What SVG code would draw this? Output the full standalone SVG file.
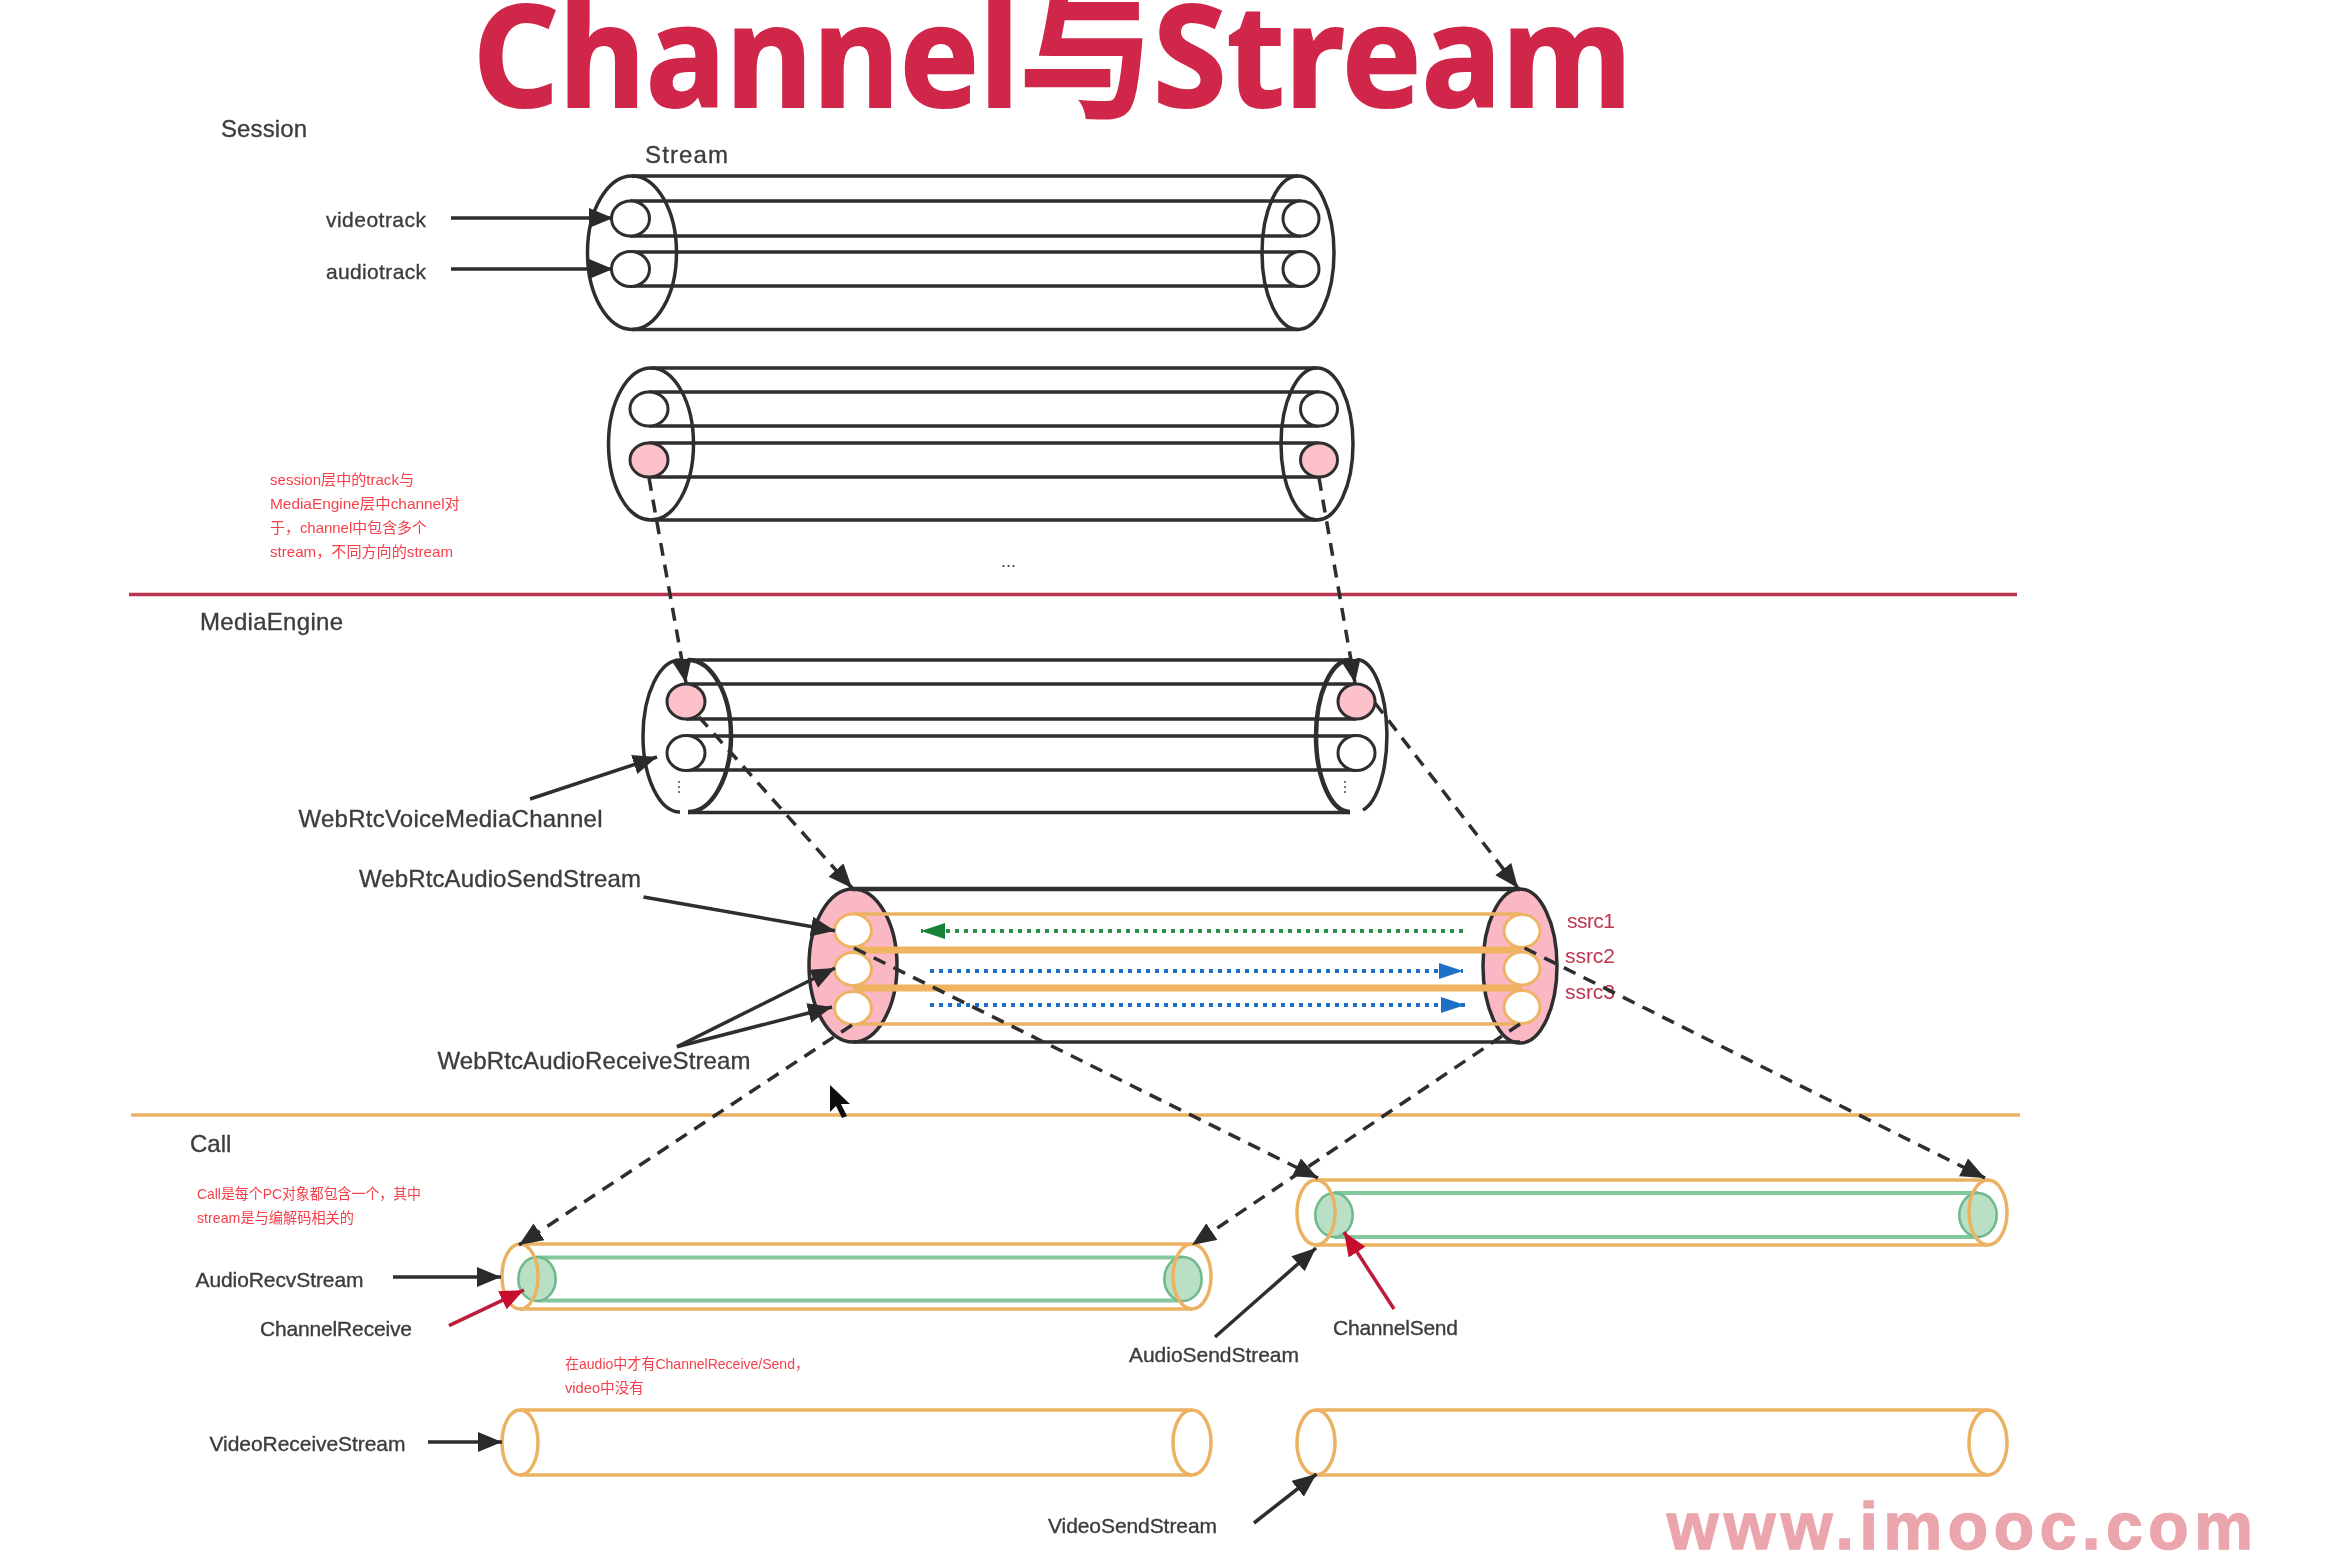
<svg xmlns="http://www.w3.org/2000/svg" width="2329" height="1563" viewBox="0 0 2329 1563">
<style>
text{font-family:"Liberation Sans","Noto Sans CJK SC",sans-serif;fill:#3c3c3c}
.t{font-family:"Noto Sans","Noto Sans CJK SC",sans-serif;font-weight:700;fill:#d0284a;stroke:#d0284a;stroke-width:2px}
.w{font-weight:700;fill:#eba5ac;stroke:#eba5ac;stroke-width:1.500px}
.l24{font-size:24px;stroke:#3c3c3c;stroke-width:.35px}.l21{font-size:21px;stroke:#3c3c3c;stroke-width:.35px}
.n{font-size:15px;fill:#f5414b}
.s{font-size:21px;fill:#bf3450}
.k{fill:none;stroke:#2e2e2e;stroke-width:3.500}
.kt{fill:none;stroke:#2e2e2e;stroke-width:4.500}
.kw{fill:#fff;stroke:#2e2e2e;stroke-width:3}
.kp{fill:#fdc1cb;stroke:#2e2e2e;stroke-width:3}
.o{fill:none;stroke:#ecb264;stroke-width:3.500}
.ot{fill:none;stroke:#f0b35e;stroke-width:7}
.ow{fill:#fff;stroke:#eeb365;stroke-width:3}
.op{fill:#fab8c4;stroke:#2e2e2e;stroke-width:3.500}
.g{fill:none;stroke:#83c79c;stroke-width:4}
.ge{fill:#b9e0c4;stroke:#6fb88b;stroke-width:2.500}
.a{fill:none;stroke:#2e2e2e;stroke-width:3.500;marker-end:url(#ah)}
.r{fill:none;stroke:#bd1f38;stroke-width:3.500;marker-end:url(#ahr)}
.d{fill:none;stroke:#2e2e2e;stroke-width:3.500;stroke-dasharray:13 9;marker-end:url(#ah)}
.dg{fill:none;stroke:#2a8f4b;stroke-width:4;stroke-dasharray:4 5;marker-end:url(#ahg)}
.db{fill:none;stroke:#1f70c4;stroke-width:4;stroke-dasharray:4 5;marker-end:url(#ahb)}
</style>
<defs>
<filter id="soft" x="0" y="0" width="100%" height="100%"><feGaussianBlur stdDeviation="0.5"/></filter>
<marker id="ah" markerUnits="userSpaceOnUse" markerWidth="26" markerHeight="22" refX="24" refY="10" orient="auto"><path d="M0 0L24 10L0 20z" fill="#2b2b2b"/></marker>
<marker id="ahr" markerUnits="userSpaceOnUse" markerWidth="26" markerHeight="22" refX="24" refY="10" orient="auto"><path d="M0 0L24 10L0 20z" fill="#c70f2e"/></marker>
<marker id="ahg" markerUnits="userSpaceOnUse" markerWidth="26" markerHeight="18" refX="24" refY="8" orient="auto"><path d="M0 0L24 8L0 16z" fill="#128239"/></marker>
<marker id="ahb" markerUnits="userSpaceOnUse" markerWidth="26" markerHeight="18" refX="24" refY="8" orient="auto"><path d="M0 0L24 8L0 16z" fill="#1a70c8"/></marker>
</defs>
<rect width="2329" height="1563" fill="#fff"/>
<g filter="url(#soft)">
<g id="title"><text class="t" x="473" y="107" font-size="142" textLength="1159" lengthAdjust="spacingAndGlyphs">Channel与Stream</text></g>
<g id="watermark"><text class="w" x="1667" y="1549" font-size="66" textLength="586">www.imooc.com</text></g>
<g id="separators">
<line x1="129" y1="594.500" x2="2017" y2="594.500" stroke="#b8344e" stroke-width="3.500"/>
<line x1="131" y1="1115" x2="2020" y2="1115" stroke="#ecb264" stroke-width="3.500"/>
</g>
<g id="layer-labels">
<text class="l24" x="221" y="137" textLength="86">Session</text>
<text class="l24" x="645" y="163" textLength="83">Stream</text>
<text class="l24" x="200" y="630" textLength="143">MediaEngine</text>
<text class="l24" x="190" y="1152">Call</text>
</g>
<g id="stream-a">
<path class="k" d="M632 176H1298M632 329.500H1298M630 201H1301M630 236H1301M630 252H1301M630 286H1301"/>
<ellipse class="k" cx="632" cy="252.700" rx="44.500" ry="76.700"/>
<ellipse class="k" cx="1298" cy="252.700" rx="36" ry="76.700"/>
<ellipse class="kw" cx="630.500" cy="218.500" rx="19" ry="17.500"/>
<ellipse class="kw" cx="630.500" cy="269" rx="19" ry="17.500"/>
<ellipse class="kw" cx="1301" cy="218.500" rx="18" ry="17.500"/>
<ellipse class="kw" cx="1301" cy="269" rx="18" ry="17.500"/>
</g>
<g id="stream-b">
<path class="k" d="M651 368H1317M651 520H1317M649 392H1319M649 426H1319M649 443H1319M649 477H1319"/>
<ellipse class="k" cx="651" cy="444" rx="42.500" ry="76"/>
<ellipse class="k" cx="1317" cy="444" rx="36" ry="76"/>
<ellipse class="kw" cx="649" cy="409" rx="19" ry="17"/>
<ellipse class="kp" cx="649" cy="460" rx="19" ry="17"/>
<ellipse class="kw" cx="1319" cy="409" rx="18.500" ry="17"/>
<ellipse class="kp" cx="1319" cy="460" rx="18.500" ry="17"/>
<text x="1001" y="567" font-size="18" fill="#555">...</text>
</g>
<g id="voice-channel">
<path class="k" d="M688 660H1350M688 812.500H1350M686 684H1356M686 719H1356M686 736H1356M686 770H1356"/>
<path class="k" d="M680 660A37 76 0 0 0 680 812"/>
<path class="kt" d="M688 660A43 76 0 0 1 688 812"/>
<path class="kt" d="M1350 660A34 76 0 0 0 1350 812"/>
<path class="k" d="M1360 660A30 76 0 0 1 1363 810"/>
<ellipse class="kp" cx="686" cy="701.500" rx="19" ry="17.500"/>
<ellipse class="kw" cx="686" cy="753" rx="19" ry="17.500"/>
<ellipse class="kp" cx="1356.500" cy="701.500" rx="18.500" ry="17.500"/>
<ellipse class="kw" cx="1356.500" cy="753" rx="18.500" ry="17.500"/>
<path d="M679 781V794M1345 781V794" fill="none" stroke="#777" stroke-width="2" stroke-dasharray="2 3"/>
<text class="l24" x="298.500" y="827" textLength="304">WebRtcVoiceMediaChannel</text>
</g>
<g id="audio-streams">
<ellipse class="op" cx="853" cy="965.500" rx="44" ry="76.500"/>
<ellipse class="op" cx="1520" cy="966" rx="37" ry="77"/>
<path class="kt" d="M852 889H1520"/>
<path class="k" d="M853 1042H1520"/>
<path class="o" d="M853 914H1522M853 1024H1522"/>
<path class="ot" d="M853 950H1522M853 988H1522"/>
<ellipse class="ow" cx="853" cy="930.500" rx="18.500" ry="16.500"/>
<ellipse class="ow" cx="853" cy="969" rx="18.500" ry="16.500"/>
<ellipse class="ow" cx="853" cy="1008" rx="18.500" ry="16.500"/>
<ellipse class="ow" cx="1522" cy="931" rx="18" ry="16.500"/>
<ellipse class="ow" cx="1522" cy="968.500" rx="18" ry="16.500"/>
<ellipse class="ow" cx="1522" cy="1007" rx="18" ry="16.500"/>
<text class="l24" x="359" y="887" textLength="282">WebRtcAudioSendStream</text>
<text class="l24" x="437.500" y="1069" textLength="313">WebRtcAudioReceiveStream</text>
<text class="s" x="1567" y="928" textLength="48">ssrc1</text>
<text class="s" x="1565" y="963" textLength="50">ssrc2</text>
<text class="s" x="1565" y="999" textLength="50">ssrc3</text>
</g>
<g id="audio-recv-stream">
<path class="o" d="M520 1244H1192M520 1309H1192"/>
<path class="g" d="M537 1257.500H1183M537 1300.500H1183"/>
<ellipse class="ge" cx="537" cy="1279" rx="18.700" ry="22"/>
<ellipse class="ge" cx="1183" cy="1279" rx="18.700" ry="22"/>
<ellipse class="o" cx="520" cy="1276.500" rx="18" ry="32.500"/>
<ellipse class="o" cx="1192" cy="1276.500" rx="19" ry="32.500"/>
<text class="l21" x="195.500" y="1287" textLength="168">AudioRecvStream</text>
<text class="l21" x="260" y="1336" textLength="152">ChannelReceive</text>
</g>
<g id="audio-send-stream">
<path class="o" d="M1316 1180H1988M1316 1245H1988"/>
<path class="g" d="M1334 1193H1978M1334 1237H1978"/>
<ellipse class="ge" cx="1334" cy="1215" rx="18.700" ry="22"/>
<ellipse class="ge" cx="1978" cy="1215" rx="18.700" ry="22"/>
<ellipse class="o" cx="1316" cy="1212.500" rx="19" ry="32.500"/>
<ellipse class="o" cx="1988" cy="1212.500" rx="19" ry="32.500"/>
<text class="l21" x="1129" y="1362" textLength="170">AudioSendStream</text>
<text class="l21" x="1333" y="1335" textLength="125">ChannelSend</text>
</g>
<g id="video-recv-stream">
<path class="o" d="M520 1410H1192M520 1475H1192"/>
<ellipse class="o" cx="520" cy="1442.500" rx="18" ry="32.500"/>
<ellipse class="o" cx="1192" cy="1442.500" rx="19" ry="32.500"/>
<text class="l21" x="209.500" y="1451" textLength="196">VideoReceiveStream</text>
</g>
<g id="video-send-stream">
<path class="o" d="M1316 1410H1988M1316 1475H1988"/>
<ellipse class="o" cx="1316" cy="1442.500" rx="19" ry="32.500"/>
<ellipse class="o" cx="1988" cy="1442.500" rx="19" ry="32.500"/>
<text class="l21" x="1048" y="1533" textLength="169">VideoSendStream</text>
</g>
<g id="track-labels">
<text class="l21" x="326" y="227" textLength="100">videotrack</text>
<text class="l21" x="326" y="278.500" textLength="100">audiotrack</text>
</g>
<g id="notes">
<text class="n" x="270" y="485" textLength="144" lengthAdjust="spacingAndGlyphs">session层中的track与</text>
<text class="n" x="270" y="509" textLength="190" lengthAdjust="spacingAndGlyphs">MediaEngine层中channel对</text>
<text class="n" x="270" y="533" textLength="157" lengthAdjust="spacingAndGlyphs">于，channel中包含多个</text>
<text class="n" x="270" y="557" textLength="183" lengthAdjust="spacingAndGlyphs">stream，不同方向的stream</text>
<text class="n" x="197" y="1199" textLength="224" lengthAdjust="spacingAndGlyphs">Call是每个PC对象都包含一个，其中</text>
<text class="n" x="197" y="1223" textLength="157" lengthAdjust="spacingAndGlyphs">stream是与编解码相关的</text>
<text class="n" x="565" y="1369" textLength="244" lengthAdjust="spacingAndGlyphs">在audio中才有ChannelReceive/Send，</text>
<text class="n" x="565" y="1393" textLength="79" lengthAdjust="spacingAndGlyphs">video中没有</text>
</g>
<g id="connectors">
<path class="a" d="M451 218H613"/>
<path class="a" d="M451 269H613"/>
<path class="a" d="M530 799L657 757"/>
<path class="a" d="M643.500 897L835 930.700"/>
<path class="a" d="M677 1046.700L835 968"/>
<path class="a" d="M677 1046.700L832 1007"/>
<path class="a" d="M393 1277H501"/>
<path class="a" d="M428 1442H502"/>
<path class="a" d="M1215 1337L1316 1248"/>
<path class="a" d="M1254 1523L1316.500 1474"/>
<path class="r" d="M449 1325.700L524 1290"/>
<path class="r" d="M1394 1309L1344 1232"/>
<path class="d" d="M649 478L686 683"/>
<path class="d" d="M1319 478L1355 683"/>
<path class="d" d="M699 717L852 888"/>
<path class="d" d="M1375 703L1518 888"/>
<path class="d" d="M852 1025L519 1245"/>
<path class="d" d="M854 948L1318 1178"/>
<path class="d" d="M1520 1024L1192 1245"/>
<path class="d" d="M1524.500 948L1985 1178"/>
<path class="dg" d="M1463 931H921"/>
<path class="db" d="M930 971H1463"/>
<path class="db" d="M930 1005H1465"/>
</g>
<path id="cursor" d="M830 1085V1112L836 1106L842 1118L847 1116L841 1104H850z" fill="#111"/>
</g>
</svg>
